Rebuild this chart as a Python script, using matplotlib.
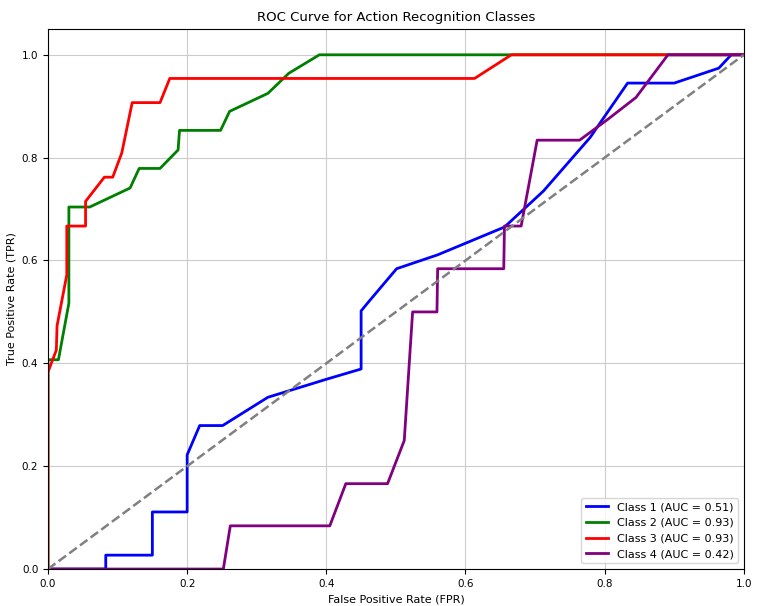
import matplotlib
matplotlib.use("Agg")
import matplotlib.pyplot as plt

labels = ["Class 1 (AUC = 0.51)", "Class 2 (AUC = 0.93)", "Class 3 (AUC = 0.93)", "Class 4 (AUC = 0.42)"]
colors = ["blue", "green", "red", "purple"]

fpr1 = [0, 0.083, 0.083, 0.15, 0.15, 0.2, 0.2, 0.218, 0.251, 0.316, 0.4, 0.45, 0.45, 0.461, 0.501, 0.56, 0.656, 0.712, 0.779, 0.833, 0.9, 0.964, 0.982, 1.0]
tpr1 = [0, 0, 0.027, 0.027, 0.111, 0.111, 0.222, 0.279, 0.279, 0.334, 0.369, 0.389, 0.502, 0.52, 0.584, 0.611, 0.665, 0.735, 0.839, 0.945, 0.945, 0.974, 1.0, 1.0]

fpr2 = [0, 0, 0.015, 0.03, 0.03, 0.06, 0.118, 0.131, 0.161, 0.187, 0.189, 0.248, 0.261, 0.316, 0.346, 0.39, 1.0]
tpr2 = [0, 0.407, 0.407, 0.517, 0.704, 0.704, 0.741, 0.779, 0.779, 0.815, 0.853, 0.853, 0.89, 0.925, 0.964, 1.0, 1.0]

fpr3 = [0, 0, 0.012, 0.013, 0.027, 0.027, 0.054, 0.054, 0.081, 0.093, 0.106, 0.121, 0.161, 0.175, 0.613, 0.666, 1.0]
tpr3 = [0, 0.383, 0.426, 0.473, 0.572, 0.667, 0.667, 0.715, 0.762, 0.762, 0.809, 0.907, 0.907, 0.954, 0.954, 1.0, 1.0]

fpr4 = [0, 0.252, 0.262, 0.405, 0.428, 0.488, 0.512, 0.524, 0.559, 0.56, 0.655, 0.656, 0.68, 0.703, 0.764, 0.805, 0.845, 0.891, 1.0]
tpr4 = [0, 0, 0.084, 0.084, 0.166, 0.166, 0.25, 0.5, 0.5, 0.584, 0.584, 0.667, 0.667, 0.834, 0.834, 0.875, 0.917, 1.0, 1.0]

fig = plt.figure(figsize=(7.68, 6.06), dpi=100)
ax = fig.add_axes([0.0625, 0.061, 0.906, 0.891])
for f, t, c, l in zip([fpr1, fpr2, fpr3, fpr4], [tpr1, tpr2, tpr3, tpr4], colors, labels):
    ax.plot(f, t, color=c, lw=2, label=l)
ax.plot([0, 1], [0, 1], color="gray", ls="--", lw=1.8)
ax.set_xlim(0, 1)
ax.set_ylim(0, 1.05)
ax.set_xlabel("False Positive Rate (FPR)", fontsize=8)
ax.set_ylabel("True Positive Rate (TPR)", fontsize=8)
ax.set_title("ROC Curve for Action Recognition Classes", fontsize=9.5)
ax.tick_params(labelsize=7.5)
ax.grid(True, color="#cccccc")
ax.legend(loc="lower right", fontsize=8)
fig.savefig("out.png", dpi=100)
